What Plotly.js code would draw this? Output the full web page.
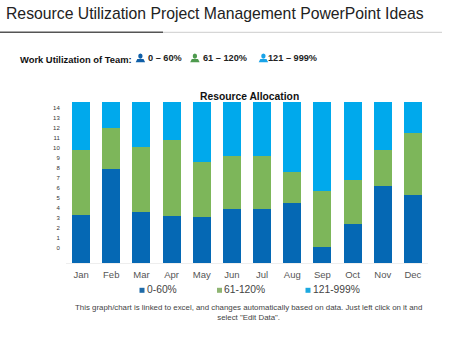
<!DOCTYPE html>
<html><head><meta charset="utf-8">
<script src="https://cdn.plot.ly/plotly-3.0.1.min.js"></script>
<style>html,body{margin:0;padding:0;background:#fff}#c{width:474px;height:355px}</style>
</head><body><div id="c"></div>
<script>
const months=["Jan","Feb","Mar","Apr","May","Jun","Jul","Aug","Sep","Oct","Nov","Dec"];
const low=[4.77,9.43,5.13,4.73,4.6,5.37,5.37,6.0,1.57,3.9,7.73,6.8];
const mid=[6.56,4.04,6.44,7.57,5.5,5.36,5.36,3.07,5.66,4.43,3.6,6.23];
const high=[4.77,2.63,4.53,3.8,6.0,5.37,5.37,7.03,8.87,7.77,4.77,3.07];
const seriesNames=["0-60%","61-120%","121-999%"];
const colours=["#0568B4","#7DB65A","#00A9EC"];
const tickLabels=[0,1,2,3,4,5,6,7,8,9,10,11,12,13,14];
const axisOffset=1.53;

const W=474,H=355;
const L=66,R=46,T=101.7,B=92.3;
const PW=W-L-R,PH=H-T-B;
const px=x=>(x-L)/PW, py=y=>(H-B-y)/PH;
const FAM='Liberation Sans, Arial, sans-serif';
const ann=(text,x,y,size,color,opts={})=>Object.assign({text,x:px(x),y:py(y),xref:'paper',yref:'paper',
  xanchor:'left',yanchor:'middle',showarrow:false,font:{family:FAM,size,color}},opts);
const rule=(x0,x1,color,w)=>({type:'line',xref:'paper',yref:'paper',x0:px(x0),x1:px(x1),y0:py(32),y1:py(32),line:{color,width:w}});
const box=(x,y,s,c)=>({type:'rect',xref:'paper',yref:'paper',x0:px(x),x1:px(x+s),y0:py(y),y1:py(y+s),fillcolor:c,line:{width:0}});
const person=(x,c)=>[
  {type:'circle',xref:'paper',yref:'paper',x0:px(x+2.5),x1:px(x+6.9),y0:py(53.2),y1:py(58.4),fillcolor:c,line:{width:0}},
  {type:'path',xref:'paper',yref:'paper',fillcolor:c,line:{width:0},
   path:`M${px(x)},${py(62)} L${px(x+1.6)},${py(58.6)} L${px(x+7.8)},${py(58.6)} L${px(x+9.4)},${py(62)} Z`}
];

const traces=[low,mid,high].map((v,i)=>({type:'bar',x:months,y:v,name:seriesNames[i],
  marker:{color:colours[i],line:{width:0}},showlegend:false}));

const layout={
  width:W,height:H,margin:{l:L,r:R,t:T,b:B},
  paper_bgcolor:'#fff',plot_bgcolor:'#fff',showlegend:false,
  barmode:'stack',bargap:0.4,
  font:{family:FAM},
  xaxis:{type:'category',tickfont:{size:9.5,color:'#555'},showgrid:false,zeroline:false,
    showline:true,linecolor:'#eee',linewidth:1,ticks:'outside',ticklen:3,tickcolor:'rgba(0,0,0,0)',automargin:false},
  yaxis:{range:[0,16.1],tickvals:tickLabels.map(t=>t+axisOffset),ticktext:tickLabels.map(String),
    tickfont:{size:6,color:'#333'},showgrid:false,zeroline:false,showline:false,ticks:'outside',ticklen:4,tickcolor:'rgba(0,0,0,0)',automargin:false},
  shapes:[rule(0,163,'#555',1.5),rule(163,442,'#ccc',1),
    ...person(135.7,'#0F5FA8'),...person(190.2,'#4E9A4E'),...person(258.7,'#1AA3E8'),
    box(139.5,287.5,5,'#1F6BA8'),box(217,287.5,5,'#8FB573'),box(305.5,287.5,5,'#1CA9E0')],
  annotations:[
    ann('Resource Utilization Project Management PowerPoint Ideas',4,13,15.75,'#222'),
    ann('<b>Work Utilization of Team:</b>',18,59,9.4,'#111'),
    ann('<b>0 – 60%</b>',146,58,9.2,'#222'),
    ann('<b>61 – 120%</b>',200.5,58,9.2,'#222'),
    ann('<b>121 – 999%</b>',266,58,9.2,'#222'),
    ann('<b>Resource Allocation</b>',249,96,10.3,'#111',{xanchor:'center'}),
    ann('0-60%',144.5,289,10.3,'#444'),
    ann('61-120%',222,289,10.3,'#444'),
    ann('121-999%',311,289,10.3,'#444'),
    ann('This graph/chart is linked to excel, and changes automatically based on data. Just left click on it and<br>select "Edit Data".',248,312.5,7.87,'#444',{xanchor:'center',align:'center'})
  ]
};
Plotly.newPlot('c',traces,layout,{displayModeBar:false,staticPlot:true});
</script></body></html>
